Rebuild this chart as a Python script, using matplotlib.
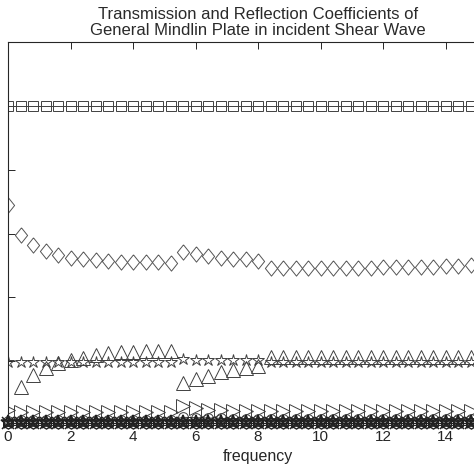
import numpy as np
import matplotlib
matplotlib.use("Agg")
import matplotlib.pyplot as plt

plt.rcParams['font.family'] = ['Liberation Sans', 'DejaVu Sans']

freq = [0.0, 0.4, 0.8, 1.2, 1.6, 2.0, 2.4, 2.8, 3.2, 3.6, 4.0, 4.4, 4.8, 5.2,
        5.6, 6.0, 6.4, 6.8, 7.2, 7.6, 8.0, 8.4, 8.8, 9.2, 9.6, 10.0, 10.4, 10.8,
        11.2, 11.6, 12.0, 12.4, 12.8, 13.2, 13.6, 14.0, 14.4, 14.8, 15.2, 15.6, 16.0]

total = [1.0] * 41

diamond = [0.689, 0.595, 0.564, 0.546, 0.533, 0.524, 0.519, 0.516, 0.513, 0.511,
           0.511, 0.510, 0.510, 0.508, 0.543, 0.536, 0.529, 0.524, 0.519, 0.519,
           0.514, 0.491, 0.491, 0.491, 0.492, 0.492, 0.493, 0.493, 0.493, 0.493,
           0.494, 0.494, 0.495, 0.495, 0.495, 0.497, 0.499, 0.501, 0.502, 0.503, 0.504]

triangle = [0.010, 0.120, 0.157, 0.178, 0.194, 0.203, 0.210, 0.218, 0.225, 0.228,
            0.230, 0.231, 0.231, 0.231, 0.131, 0.143, 0.154, 0.165, 0.172, 0.180,
            0.186, 0.212, 0.212, 0.212, 0.212, 0.212, 0.212, 0.212, 0.212, 0.212,
            0.212, 0.212, 0.212, 0.212, 0.212, 0.212, 0.212, 0.212, 0.212, 0.212, 0.212]

star = [0.196, 0.197, 0.198, 0.197, 0.196, 0.196, 0.196, 0.196, 0.196, 0.196,
        0.196, 0.196, 0.196, 0.196, 0.206, 0.205, 0.204, 0.204, 0.204, 0.204,
        0.204, 0.197, 0.197, 0.197, 0.197, 0.197, 0.197, 0.197, 0.197, 0.197,
        0.197, 0.197, 0.197, 0.197, 0.197, 0.197, 0.197, 0.197, 0.197, 0.197, 0.197]

right_tri = [0.047, 0.042, 0.042, 0.042, 0.042, 0.042, 0.042, 0.042, 0.042, 0.042,
             0.042, 0.042, 0.042, 0.042, 0.060, 0.052, 0.047, 0.047, 0.044, 0.044,
             0.044, 0.044, 0.044, 0.044, 0.044, 0.044, 0.044, 0.044, 0.044, 0.044,
             0.044, 0.044, 0.044, 0.044, 0.044, 0.044, 0.044, 0.044, 0.044, 0.044, 0.044]

circle = [0.014, 0.016, 0.016, 0.016, 0.016, 0.016, 0.016, 0.016, 0.016, 0.016,
          0.016, 0.016, 0.016, 0.016, 0.024, 0.023, 0.022, 0.021, 0.020, 0.020,
          0.020, 0.020, 0.020, 0.020, 0.020, 0.020, 0.020, 0.020, 0.020, 0.020,
          0.020, 0.020, 0.020, 0.020, 0.020, 0.020, 0.020, 0.020, 0.020, 0.020, 0.020]

asterisk = [0.009] * 41
cross = [0.007] * 41
plus = [0.011] * 41
hexa = [0.006] * 41

title_text = "Transmission and Reflection Coefficients of\nGeneral Mindlin Plate in incident Shear Wave"
xlabel_text = "frequency"
xticks = [0, 2, 4, 6, 8, 10, 12, 14, 16]
yticks = [0.0, 0.2, 0.4, 0.6, 0.8, 1.0, 1.2]

W = H = 474
fig = plt.figure(figsize=(4.74, 4.74), dpi=100)
ax = fig.add_axes([8 / W, 1 - 425 / H, 500 / W, 383 / H])

ec = '#404040'
lw = 0.7
diamond_marker = [(0, 1), (0.8, 0), (0, -1), (-0.8, 0), (0, 1)]

ax.plot(freq, total, '-s', color=ec, mfc='none', mec=ec, ms=6.5, lw=lw, mew=lw)
ax.plot(freq, diamond, linestyle='none', marker=diamond_marker, mfc='none',
        mec='#555555', ms=11, mew=lw)
ax.plot(freq, star, '*', mfc='none', mec=ec, ms=9, mew=lw)
ax.plot(freq, triangle, '^', mfc='none', mec=ec, ms=9.5, mew=lw)
ax.plot(freq, right_tri, '>', mfc='none', mec=ec, ms=9.5, mew=lw)
ax.plot(freq, circle, '-o', color=ec, mfc='none', mec=ec, ms=7, lw=lw, mew=lw,
        clip_on=False)
ax.plot(freq, plus, '+', color='#202020', ms=9, mew=1.1, clip_on=False)
ax.plot(freq, asterisk, '*', mfc='none', mec='#202020', ms=10, mew=1.1, clip_on=False)
ax.plot(freq, cross, '-x', color='#202020', ms=8, lw=1.0, mew=1.1, clip_on=False)
ax.plot(freq, hexa, 'h', mfc='none', mec='#202020', ms=8, mew=1.0, clip_on=False)

ax.set_xlim(0, 16)
ax.set_ylim(0, 1.2)
ax.set_xticks(xticks)
ax.set_yticks(yticks)
ax.set_yticklabels([f"{v:g}" for v in yticks])
ax.tick_params(direction='in', length=5, width=0.7, colors='#262626',
               labelsize=11, top=True, right=True)
ax.tick_params(axis='y', pad=6)
for s in ax.spines.values():
    s.set_color('#262626')
    s.set_linewidth(0.8)
ax.set_xlabel(xlabel_text, fontsize=11.5, color='#262626', labelpad=4)
ax.set_title(title_text, fontsize=12, color='#2a2a2a', pad=5, linespacing=1.12)

fig.savefig("out.png", dpi=100)
